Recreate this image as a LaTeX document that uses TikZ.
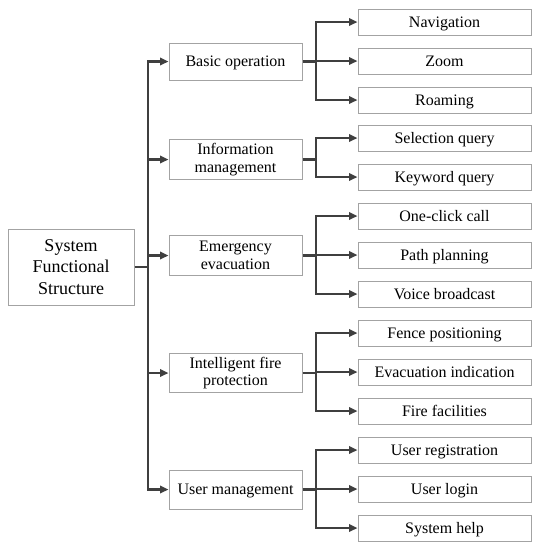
\documentclass[tikz,border=0pt]{standalone}
\usepackage{fontspec}
\setmainfont{Liberation Serif}
\usetikzlibrary{arrows.meta}
\definecolor{boxgray}{HTML}{A3A3A3}
\definecolor{linegray}{HTML}{3F3F3F}
\begin{document}
\begin{tikzpicture}[x=1pt,y=-1pt,
  box/.style={draw=boxgray, line width=1pt, inner sep=0pt, text=black},
  oneline/.style={text height=10.6pt, text depth=0pt},
  twoline/.style={align=center},
  rootbox/.style={box, twoline, minimum width=126pt, minimum height=76pt, font=\fontsize{18}{21.5}\selectfont},
  midbox/.style={box, minimum width=133pt, minimum height=39pt, font=\fontsize{16}{17.5}\selectfont},
  leafbox/.style={box, oneline, minimum width=173pt, minimum height=26pt, font=\fontsize{16}{18}\selectfont},
  conn/.style={draw=linegray, line width=2.2pt},
  arr/.style={conn, -{Triangle[length=8.5pt,width=7.5pt]}}]
\useasboundingbox (0,0) rectangle (540,550);
% root
\node[rootbox] (root) at (71,267) {System\\Functional\\Structure};
% middle level
\node[midbox, oneline, minimum height=37pt] (basic) at (235.5,61.5) {Basic operation};
\node[midbox, twoline, minimum height=40pt] (info) at (235.5,159.5) {Information\\management};
\node[midbox, twoline, minimum height=40pt] (emer) at (235.5,255.5) {Emergency\\evacuation};
\node[midbox, twoline] (fire) at (235.5,373) {Intelligent fire\\protection};
\node[midbox, oneline] (user) at (235.5,489.5) {User management};
% leaves
\node[leafbox] (nav) at (444.5,22) {Navigation};
\node[leafbox] (zoom) at (444.5,61) {Zoom};
\node[leafbox] (roam) at (444.5,100) {Roaming};
\node[leafbox] (sel) at (444.5,138) {Selection query};
\node[leafbox] (key) at (444.5,177) {Keyword query};
\node[leafbox] (call) at (444.5,216) {One-click call};
\node[leafbox] (path) at (444.5,255) {Path planning};
\node[leafbox] (voice) at (444.5,294) {Voice broadcast};
\node[leafbox] (fence) at (444.5,333) {Fence positioning};
\node[leafbox] (evac) at (444.5,372) {Evacuation indication};
\node[leafbox] (fac) at (444.5,411) {Fire facilities};
\node[leafbox] (reg) at (444.5,450) {User registration};
\node[leafbox] (login) at (444.5,489) {User login};
\node[leafbox] (help) at (444.5,528) {System help};
% junction points
\coordinate (t0) at (148,267);
\coordinate (j1) at (316,61.5);
\coordinate (j2) at (316,159.5);
\coordinate (j3) at (316,255.5);
\coordinate (j4) at (316,373);
\coordinate (j5) at (316,489.5);
% trunk
\draw[conn] (root.east) -- (t0);
\foreach \m in {basic,info,emer,fire,user}
  \draw[arr] (t0) |- (\m.west);
% branches
\draw[conn] (basic.east) -- (j1);
\foreach \l in {nav,zoom,roam} \draw[arr] (j1) |- (\l.west);
\draw[conn] (info.east) -- (j2);
\foreach \l in {sel,key} \draw[arr] (j2) |- (\l.west);
\draw[conn] (emer.east) -- (j3);
\foreach \l in {call,path,voice} \draw[arr] (j3) |- (\l.west);
\draw[conn] (fire.east) -- (j4);
\foreach \l in {fence,evac,fac} \draw[arr] (j4) |- (\l.west);
\draw[conn] (user.east) -- (j5);
\foreach \l in {reg,login,help} \draw[arr] (j5) |- (\l.west);
\end{tikzpicture}
\end{document}
